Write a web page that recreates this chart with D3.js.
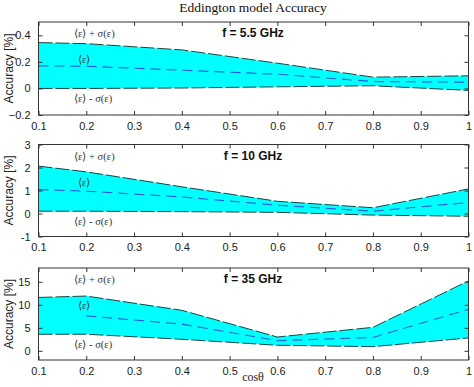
<!DOCTYPE html>
<html><head><meta charset="utf-8">
<script src="https://cdn.jsdelivr.net/npm/d3@7"></script>
<style>body{margin:0;background:#fff}svg{display:block}</style>
</head><body>
<svg id="c" width="474" height="387"></svg>
<script>
const xValues = [0.1, 0.2, 0.4, 0.6, 0.8, 1.0];
const xTicks = [0.1,0.2,0.3,0.4,0.5,0.6,0.7,0.8,0.9,1];
const freqLabels = ["f = 5.5 GHz", "f = 10 GHz", "f = 35 GHz"];
// 5.5 GHz
const upper55 = [0.345, 0.337, 0.29, 0.19, 0.085, 0.095];
const mean55  = [0.17, 0.167, 0.137, 0.107, 0.052, 0.047];
const lower55 = [0.0, 0.0, 0.003, 0.012, 0.02, -0.015];
// 10 GHz
const upper10 = [2.06, 1.81, 1.16, 0.53, 0.25, 1.07];
const mean10  = [1.04, 0.97, 0.72, 0.36, 0.1, 0.48];
const lower10 = [0.1, 0.1, 0.08, 0.05, -0.07, -0.12];
// 35 GHz
const upper35 = [11.6, 11.9, 8.8, 3.0, 5.1, 15.2];
const mean35  = [null, 7.6, 5.8, 2.2, 2.9, 9.0];
const lower35 = [3.6, 3.6, 2.5, 1.2, 0.9, 2.8];
const yTicks55 = [-0.2, 0, 0.2, 0.4];
const yTicks10 = [-1, 0, 1, 2, 3];
const yTicks35 = [0, 5, 10, 15];
const yDomains = [[-0.2, 0.5], [-1, 3], [-2, 18]];

const panels = [
  {up: upper55, mean: mean55, lo: lower55, ticks: yTicks55, dom: yDomains[0], top: 22, bottom: 115, label: freqLabels[0], fmt: d => d === 0 ? "0" : d3.format(".1f")(d)},
  {up: upper10, mean: mean10, lo: lower10, ticks: yTicks10, dom: yDomains[1], top: 144.5, bottom: 236.5, label: freqLabels[1], fmt: d => String(d)},
  {up: upper35, mean: mean35, lo: lower35, ticks: yTicks35, dom: yDomains[2], top: 268, bottom: 360, label: freqLabels[2], fmt: d => String(d)}
];
const svg = d3.select("#c");
const L = 38.5, R = 468.5;
const x = d3.scaleLinear().domain([0.1, 1]).range([L, R]);
const sans = "Liberation Sans, Arial, sans-serif";
const serif = "Liberation Serif, Times New Roman, serif";

svg.append("text").attr("x", 253).attr("y", 12).attr("text-anchor", "middle")
  .attr("font-family", serif).attr("font-size", 13.5).attr("fill", "#111").text("Eddington model Accuracy");

panels.forEach((p, i) => {
  const y = d3.scaleLinear().domain(p.dom).range([p.bottom, p.top]);
  const g = svg.append("g");
  const pts = xValues.map((xv, k) => ({x: xv, u: p.up[k], m: p.mean[k], l: p.lo[k]}));
  g.append("path").datum(pts)
    .attr("d", d3.area().x(d => x(d.x)).y0(d => y(d.l)).y1(d => y(d.u)))
    .attr("fill", "#00ffff");
  g.append("path").datum(pts)
    .attr("d", d3.line().x(d => x(d.x)).y(d => y(d.u)))
    .attr("fill", "none").attr("stroke", "#1d4545").attr("stroke-width", 1).attr("stroke-dasharray", "14,3");
  g.append("path").datum(pts)
    .attr("d", d3.line().x(d => x(d.x)).y(d => y(d.l)))
    .attr("fill", "none").attr("stroke", "#1d4545").attr("stroke-width", 1).attr("stroke-dasharray", "14,3");
  g.append("path").datum(pts)
    .attr("d", d3.line().defined(d => d.m !== null).x(d => x(d.x)).y(d => y(d.m)))
    .attr("fill", "none").attr("stroke", "#2a5ce0").attr("stroke-width", 1.1).attr("stroke-dasharray", "10,6");

  g.append("rect").attr("x", L).attr("y", p.top).attr("width", R - L).attr("height", p.bottom - p.top)
    .attr("fill", "none").attr("stroke", "#333").attr("stroke-width", 1);
  const ax = g.append("g").attr("transform", `translate(0,${p.bottom})`)
    .call(d3.axisBottom(x).tickValues(xTicks).tickSize(-4).tickPadding(7).tickFormat(d => d === 1 ? "1" : d3.format(".1f")(d)));
  ax.select(".domain").remove();
  ax.selectAll("text").attr("font-family", sans).attr("font-size", 11).attr("fill", "#222");
  ax.selectAll("line").attr("stroke", "#333");
  const axt = g.append("g").attr("transform", `translate(0,${p.top})`)
    .call(d3.axisTop(x).tickValues(xTicks).tickSize(-4).tickFormat(""));
  axt.select(".domain").remove(); axt.selectAll("line").attr("stroke", "#333");
  const ay = g.append("g").attr("transform", `translate(${L},0)`)
    .call(d3.axisLeft(y).tickValues(p.ticks).tickSize(-4).tickPadding(8).tickFormat(p.fmt));
  ay.select(".domain").remove();
  ay.selectAll("text").attr("font-family", sans).attr("font-size", 11).attr("fill", "#222");
  ay.selectAll("line").attr("stroke", "#333");
  const ayr = g.append("g").attr("transform", `translate(${R},0)`)
    .call(d3.axisRight(y).tickValues(p.ticks).tickSize(-4).tickFormat(""));
  ayr.select(".domain").remove(); ayr.selectAll("line").attr("stroke", "#333");

  const h = p.bottom - p.top;
  g.append("text").attr("x", 253).attr("y", p.top + 15).attr("text-anchor", "middle")
    .attr("font-family", sans).attr("font-weight", "bold").attr("font-size", 12).attr("fill", "#111").text(p.label);
  const lab = (tx, ty, s) => g.append("text").attr("x", tx).attr("y", ty)
    .attr("font-family", serif).attr("font-size", 10.5).attr("fill", "#333").text(s);
  lab(74, p.top + 15, "\u27E8\u03B5\u27E9 + \u03C3(\u03B5)");
  lab(78, p.top + 41, "\u27E8\u03B5\u27E9");
  lab(74, p.top + 80, "\u27E8\u03B5\u27E9 - \u03C3(\u03B5)");
  g.append("text").attr("transform", `translate(13,${p.top + h / 2}) rotate(-90)`)
    .attr("text-anchor", "middle").attr("font-family", sans).attr("font-size", 12).attr("fill", "#222")
    .text("Accuracy [%]");
});
svg.append("text").attr("x", 253).attr("y", 381).attr("text-anchor", "middle")
  .attr("font-family", serif).attr("font-size", 12).attr("fill", "#222").text("cos\u03B8");
</script>
</body></html>
